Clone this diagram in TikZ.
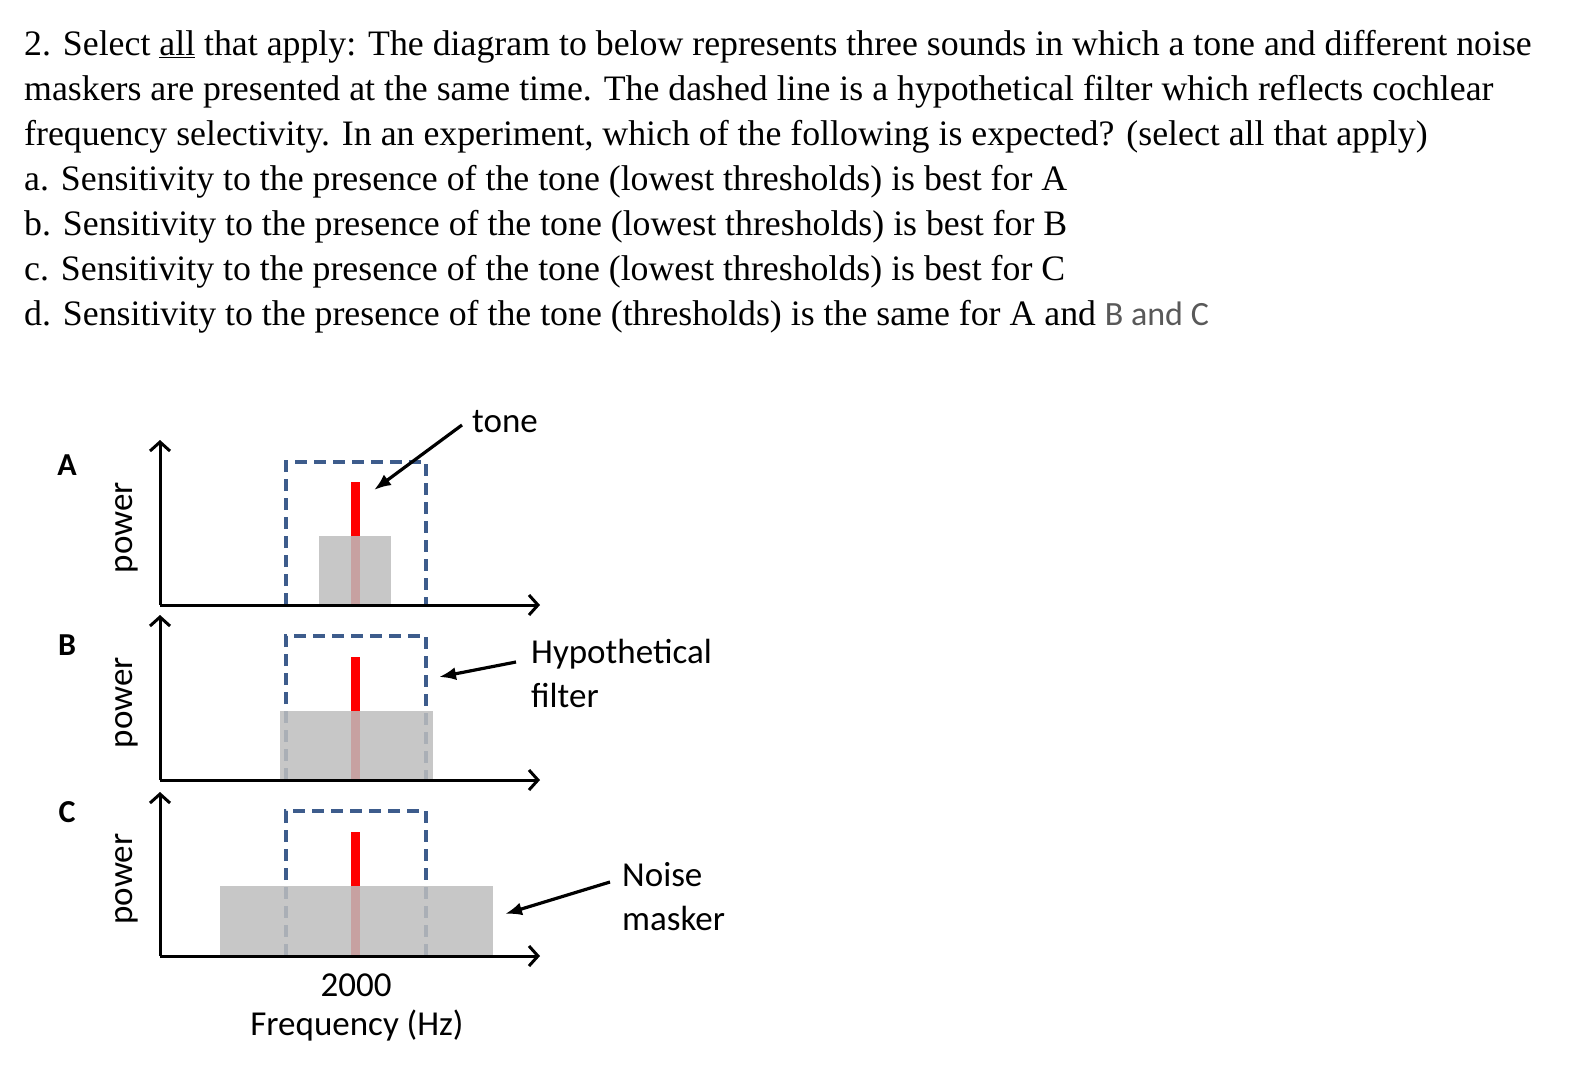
\documentclass[tikz,border=0pt]{standalone}
\usepackage{fontspec}
\setmainfont{Liberation Serif}
\newfontfamily\calib{Carlito}
\usetikzlibrary{arrows.meta}
\definecolor{filtblue}{RGB}{61,92,140}
\definecolor{noisegray}{RGB}{190,190,190}
\begin{document}
\begin{tikzpicture}[x=1bp,y=-1bp,
  q/.style={anchor=base west,inner sep=0pt,font=\fontsize{35.8bp}{40bp}\selectfont},
  lab/.style={inner sep=0pt,font=\calib\fontsize{35bp}{40bp}\selectfont},
  axis/.style={line width=3bp,-{Straight Barb[length=9bp,width=20bp,line width=3bp]}},
  filt/.style={draw=filtblue,line width=4bp,dash pattern=on 12bp off 7bp},
  tonebar/.style={fill=red,draw=none},
  noise/.style={fill=noisegray,fill opacity=0.85,draw=none},
  point/.style={line width=3.2bp,-{Latex[length=17bp,width=13bp]}}]
\useasboundingbox (0,0) rectangle (1587,1081);
\fill[white] (0,0) rectangle (1587,1081);
\node[q] (l1) at (24,55) {2. Select \underline{all} that apply: The diagram to below represents three sounds in which a tone and different noise};
\node[q] (l2) at (24,100) {maskers are presented at the same time. The dashed line is a hypothetical filter which reflects cochlear};
\node[q] (l3) at (24,145) {frequency selectivity. In an experiment, which of the following is expected? (select all that apply)};
\node[q] (l4) at (24,190) {a. Sensitivity to the presence of the tone (lowest thresholds) is best for A};
\node[q] (l5) at (24,235) {b. Sensitivity to the presence of the tone (lowest thresholds) is best for B};
\node[q] (l6) at (24,280) {c. Sensitivity to the presence of the tone (lowest thresholds) is best for C};
\node[q] (l7) at (24,325) {d. Sensitivity to the presence of the tone (thresholds) is the same for A and {\calib\fontsize{34bp}{40bp}\selectfont\color{black!65} B and C}};
\foreach \pn/\pbase/\ptop/\pbox/\pred/\pgl/\pgr/\pgt/\ply in
  {A/605/440/462/482/319/391/536/465, B/780/615/636/657/280/433/711/645, C/956/792/811/832/220/493/886/812}{
  \fill[tonebar] (351,\pred) rectangle (360,\pbase);
  \draw[filt] (286,\pbase) -- (286,\pbox) -- (426,\pbox) -- (426,\pbase);
  \fill[noise] (\pgl,\pgt) rectangle (\pgr,\pbase);
  \draw[axis] (160,\pbase) -- (540,\pbase);
  \draw[axis] (160,\pbase) -- (160,\ptop);
  \node[lab,font=\calib\bfseries\fontsize{32bp}{36bp}\selectfont] (L\pn) at (67,\ply) {\pn};
  \node[lab,rotate=90] (P\pn) at (127,{(\pbase+\ptop)/2+5}) {power};
}
\node[lab] (tone) at (505,422) {tone};
\coordinate (toneS) at (462,425);
\coordinate (toneE) at (374,490);
\draw[point] (toneS) -- (toneE);
\node[lab,anchor=west,align=left,font=\calib\fontsize{35bp}{44bp}\selectfont] (hyp) at (531,673) {Hypothetical\\filter};
\coordinate (hypS) at (516,662);
\coordinate (hypE) at (439,677);
\draw[point] (hypS) -- (hypE);
\node[lab,anchor=west,align=left,font=\calib\fontsize{35bp}{44bp}\selectfont] (nm) at (622,897) {Noise\\masker};
\coordinate (nmS) at (610,882);
\coordinate (nmE) at (505,914);
\draw[point] (nmS) -- (nmE);
\node[lab] (f2000) at (356,985) {2000};
\node[lab] (freq) at (357,1026) {Frequency (Hz)};
\end{tikzpicture}
\end{document}
